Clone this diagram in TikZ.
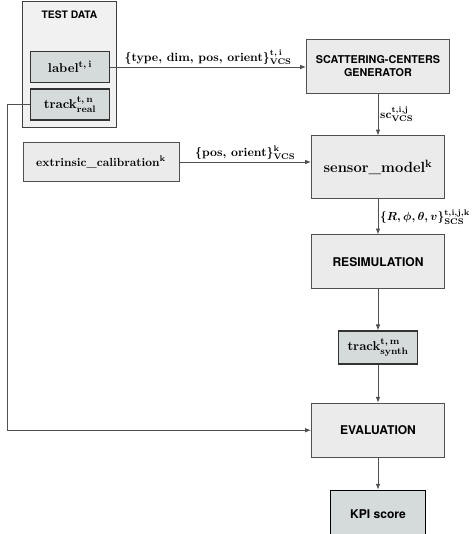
\documentclass[tikz,border=0pt]{standalone}
\usepackage{fontspec}
\newfontfamily\headfont{TeX Gyre Heros}
\usetikzlibrary{positioning,arrows.meta}

\definecolor{boxfill}{HTML}{EBEBEB}
\definecolor{darkfill}{HTML}{D5DADA}
\definecolor{edge}{HTML}{505050}

\tikzset{
    block/.style={draw=edge, fill=boxfill, line width=0.8pt, align=center, inner sep=2pt,
        font=\headfont\bfseries\fontsize{10.3}{12.5}\selectfont},
    item/.style={draw=black!80, fill=darkfill, line width=1.2pt, inner sep=2pt,
        minimum width=2.37cm, minimum height=0.93cm, font=\fontsize{11}{13}\selectfont\boldmath},
    flow/.style={draw=edge, line width=0.8pt, -{Latex[length=5pt,width=4pt]}},
    lbl/.style={font=\fontsize{10.3}{12}\selectfont\boldmath, inner sep=1.5pt}
}

\begin{document}
\begin{tikzpicture}[x=0.03cm, y=-0.03cm]
        \useasboundingbox (0,0) rectangle (474,534);

        % Test data group
        \node (testdata) [draw=black!75, fill=boxfill!70, line width=0.8pt, anchor=north west,
            minimum width=2.82cm, minimum height=3.78cm] at (22,1) {};
        \node (title) [below=0.3cm of testdata.north, inner sep=0pt,
            font=\headfont\bfseries\fontsize{8.8}{10}\selectfont] {TEST DATA};
        \node (label) [item] at (70,67) {$\mathbf{label}^{\mathbf{t,\,i}}$};
        \node (track) [item, below=0.15cm of label] {$\mathbf{track}^{\mathbf{t,\,n}}_{\mathbf{real}}$};

        % Main column
        \node (scg) [block, minimum width=4.29cm, minimum height=1.62cm,
            font=\headfont\bfseries\fontsize{9.2}{11}\selectfont] at (378,66) {SCATTERING-CENTERS\\GENERATOR};
        \node (sensor) [block, below=1.26cm of scg, minimum width=3.99cm, minimum height=1.89cm,
            font=\fontsize{12.6}{14}\selectfont\boldmath] {\textbf{sensor\_model}$^{\mathbf{k}}$};
        \node (resim) [block, below=1.05cm of sensor, minimum width=3.99cm, minimum height=1.62cm] {RESIMULATION};
        \node (synth) [item, below=1.23cm of resim, minimum height=0.99cm] {$\mathbf{track}^{\mathbf{t,\,m}}_{\mathbf{synth}}$};
        \node (eval) [block, below=1.14cm of synth, minimum width=3.99cm, minimum height=1.62cm] {EVALUATION};
        \node (kpi) [block, below=0.96cm of eval, fill=darkfill, draw=black, line width=1.4pt,
            minimum width=2.85cm, minimum height=1.44cm] {KPI score};

        \node (ext) [block, minimum width=4.68cm, minimum height=1.17cm,
            font=\fontsize{10}{12}\selectfont\boldmath] at (101,162) {\textbf{extrinsic\_calibration}$^{\mathbf{k}}$};

        % Connectors
        \draw [flow] (label.east) -- (label.east -| scg.west)
            node [lbl, midway, above] {\textbf{\{type, dim, pos, orient\}}$^{\mathbf{t,\,i}}_{\mathbf{VCS}}$};
        \draw [flow] (scg) -- (sensor)
            node [lbl, midway, right] {$\mathbf{sc}^{\mathbf{t,i,j}}_{\mathbf{VCS}}$};
        \draw [flow] (ext) -- (ext -| sensor.west)
            node [lbl, midway, above] {\textbf{\{pos, orient\}}$^{\mathbf{k}}_{\mathbf{VCS}}$};
        \draw [flow] (sensor) -- (resim)
            node [lbl, midway, right, font=\fontsize{9.6}{11}\selectfont\boldmath] {$\{R,\phi,\theta,v\}^{\mathbf{t,i,j,k}}_{\mathbf{SCS}}$};
        \draw [flow] (resim) -- (synth);
        \draw [flow] (synth) -- (eval);
        \draw [flow] (eval) -- (kpi);
        \draw [flow] (track.west) -- ++(-0.66cm,0) |- (eval.west);
\end{tikzpicture}
\end{document}
